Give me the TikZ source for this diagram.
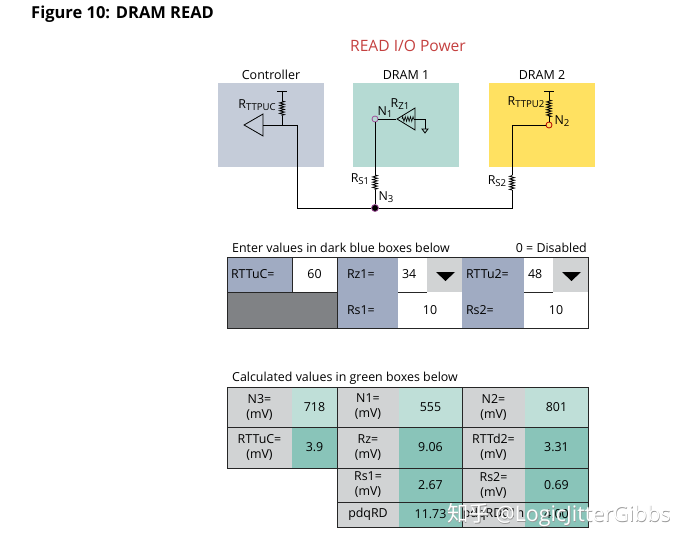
\documentclass[tikz,border=0pt]{standalone}
\usepackage{fontspec}
\setmainfont{Open Sans}
\newfontfamily\cjk{Noto Sans CJK SC}
\usetikzlibrary{shapes.geometric,decorations.pathmorphing}
\definecolor{ctrlgray}{HTML}{C5CCD9}
\definecolor{dramgreen}{HTML}{B5DAD3}
\definecolor{dramyellow}{HTML}{FFE161}
\definecolor{titlered}{HTML}{C4403F}
\definecolor{inputblue}{HTML}{A0ABC2}
\definecolor{offgray}{HTML}{808285}
\definecolor{labelgray}{HTML}{D1D3D4}
\definecolor{lightgreen}{HTML}{BFDFD8}
\definecolor{darkgreen}{HTML}{89C4B9}
\definecolor{ringpink}{HTML}{A0509A}
\newcommand{\rsub}[2]{#1\raisebox{-0.35ex}{\fontsize{9.6}{10}\selectfont #2}}
\tikzset{
    cell/.style 2 args={minimum width=#1, minimum height=#2, inner sep=0pt, outer sep=0pt, anchor=north west, align=center, font=\fontsize{12.4}{15}\selectfont},
    leftcell/.style={text width=#1, inner xsep=4pt, align=left},
    chip/.style={minimum width=106, minimum height=84, inner sep=0pt, anchor=north west},
    wire/.style={line width=0.8pt},
    res/.style={wire, decorate, decoration={zigzag, segment length=2.6pt, amplitude=2.4pt}},
    amp/.style={draw, line width=0.8pt, isosceles triangle, isosceles triangle stretches, inner sep=0pt, anchor=apex, shape border rotate=180},
    ring/.style={circle, draw=#1, line width=0.8pt, minimum size=6pt, inner sep=0pt},
    tag/.style={font=\fontsize{12.4}{14}\selectfont, inner sep=0pt},
    head/.style={font=\fontsize{12.5}{14}\selectfont, inner sep=0pt},
    grid/.style={line width=1pt, color=black!85}
}
\begin{document}
\begin{tikzpicture}[x=1pt, y=-1pt]
    \useasboundingbox (0,0) rectangle (687,545);

    % titles
    \node[font=\bfseries\fontsize{16.5}{18}\selectfont, inner sep=0pt, anchor=west] (figtitle) at (31,14) {Figure 10: DRAM READ};
    \node[font=\fontsize{15.6}{18}\selectfont, text=titlered, inner sep=0pt] (iotitle) at (408,46) {READ I/O Power};

    % chips
    \node[chip, fill=ctrlgray] (ctrlbox) at (218,83) {};
    \node[chip, fill=dramgreen] (dram1box) at (353,83) {};
    \node[chip, fill=dramyellow] (dram2box) at (489,83) {};
    \node[head] (ctrlname) at (271,75) {Controller};
    \node[head] (dram1name) at (406,75) {DRAM 1};
    \node[head] (dram2name) at (542,75) {DRAM 2};

    % controller
    \node[amp, minimum width=22, minimum height=19] (drvc) at (243,125) {};
    \coordinate (capc) at (282,91);
    \coordinate (resctop) at (282,101);
    \coordinate (rescbot) at (282,116);
    \coordinate (pinc) at (282,125);
    \coordinate (cornerc) at (297,125);
    \draw[wire] (277,91) -- (287,91);
    \draw[wire] (capc) -- (resctop);
    \draw[res] (resctop) -- (rescbot);
    \draw[wire] (rescbot) -- (pinc);
    \draw[wire] (drvc.lower side) -- (cornerc);

    % dram 1
    \node[ring=ringpink] (n1) at (375,119) {};
    \node[amp, minimum width=22, minimum height=18] (drv1) at (396,119) {};
    \coordinate (resztop) at (402,119);
    \coordinate (reszbot) at (414,119);
    \coordinate (gnd1) at (425,119);
    \node[amp, minimum width=6, minimum height=4, shape border rotate=-90] (gndtri) at (425,134) {};
    \draw[wire] (n1) -- (drv1.apex);
    \draw[res, line width=0.6pt] (resztop) -- (reszbot);
    \draw[wire] (reszbot) -- (gnd1) -- (gndtri.lower side);

    % dram 2
    \node[ring=red!70!black] (n2) at (549,125) {};
    \coordinate (capd) at (549,91);
    \coordinate (resdtop) at (549,100);
    \coordinate (resdbot) at (549,117);
    \coordinate (cornerd) at (512,125);
    \draw[wire] (544,91) -- (554,91);
    \draw[wire] (capd) -- (resdtop);
    \draw[res] (resdtop) -- (resdbot);
    \draw[wire] (resdbot) -- (n2);
    \draw[wire] (n2) -- (cornerd);

    % bus
    \node[circle, fill=black, draw=ringpink, line width=0.8pt, minimum size=7pt, inner sep=0pt] (n3) at (375,208) {};
    \coordinate (buscl) at (297,208);
    \coordinate (buscr) at (512,208);
    \coordinate (rs1top) at (375,175);
    \coordinate (rs1bot) at (375,190);
    \coordinate (rs2top) at (512,175);
    \coordinate (rs2bot) at (512,190);
    \draw[wire] (cornerc) -- (buscl) -- (n3) -- (buscr) -- (rs2bot);
    \draw[res] (rs2bot) -- (rs2top);
    \draw[wire] (rs2top) -- (cornerd);
    \draw[wire] (n1) -- (rs1top);
    \draw[res] (rs1top) -- (rs1bot);
    \draw[wire] (rs1bot) -- (n3);

    % circuit labels
    \node[tag] (rttpuc) at (257,105) {\rsub{R}{TTPUC}};
    \node[tag] (rz1) at (400,104) {\rsub{R}{Z1}};
    \node[tag] (n1lab) at (385,112) {\rsub{N}{1}};
    \node[tag] (rttpu2) at (526,102) {\rsub{R}{TTPU2}};
    \node[tag] (n2lab) at (562,121) {\rsub{N}{2}};
    \node[tag] (rs1lab) at (360,179) {\rsub{R}{S1}};
    \node[tag] (rs2lab) at (497,181) {\rsub{R}{S2}};
    \node[tag] (n3lab) at (386,197) {\rsub{N}{3}};

    % input table
    \node[tag, anchor=west] (entertxt) at (232,248) {Enter values in dark blue boxes below};
    \node[tag, anchor=east] (disabled) at (587,248) {0 = Disabled};

    \node[cell={65}{35}, fill=inputblue, leftcell=57] (rttuc) at (227,257) {RTTuC=};
    \node[cell={45}{35}, fill=white] (rttucv) at (292,257) {60};
    \node[cell={61}{35}, fill=inputblue, leftcell=41, inner xsep=10pt] (rz) at (337,257) {Rz1=};
    \node[cell={29}{35}, fill=white, leftcell=21] (rzv) at (398,257) {34};
    \node[cell={35}{35}, fill=labelgray] (rzmenu) at (427,257) {};
    \node[cell={62}{35}, fill=inputblue, leftcell=54] (rttu2) at (462,257) {RTTu2=};
    \node[cell={29}{35}, fill=white, leftcell=21] (rttu2v) at (524,257) {48};
    \node[cell={35}{35}, fill=labelgray] (rttu2menu) at (553,257) {};
    \node[cell={110}{36}, fill=offgray] (blank) at (227,292) {};
    \node[cell={61}{36}, fill=inputblue, leftcell=41, inner xsep=10pt] (rs1) at (337,292) {Rs1=};
    \node[cell={64}{36}, fill=white] (rs1v) at (398,292) {10};
    \node[cell={62}{36}, fill=inputblue, leftcell=54] (rs2) at (462,292) {Rs2=};
    \node[cell={64}{36}, fill=white] (rs2v) at (524,292) {10};

    \fill (436,272) -- (455,272) -- (445.5,281) -- cycle;
    \fill (562,272) -- (581,272) -- (571.5,281) -- cycle;

    \draw[grid] (rttuc.north west) rectangle (rs2v.south east);
    \draw[grid] (rz.north west) -- (rs1.south west);
    \draw[grid] (blank.north west) -- (blank.north east);
    \draw[grid, line width=0.6pt] (rttucv.north west) -- (rttucv.south west);
    \draw[grid, line width=0.6pt] (rzv.south west) -- (rzv.south east);
    \draw[grid, line width=0.6pt] (rttu2v.south west) -- (rttu2v.south east);

    % result table
    \node[tag, anchor=west] (calctxt) at (232,378) {Calculated values in green boxes below};

    \node[cell={65}{40}, fill=labelgray] (n3a) at (227,387) {N3=\\(mV)};
    \node[cell={45}{40}, fill=lightgreen] (n3v) at (292,387) {718};
    \node[cell={62}{40}, fill=labelgray] (n1a) at (337,387) {N1=\\(mV)};
    \node[cell={63}{40}, fill=lightgreen] (n1v) at (399,387) {555};
    \node[cell={63}{40}, fill=labelgray] (n2a) at (462,387) {N2=\\(mV)};
    \node[cell={63}{40}, fill=lightgreen] (n2v) at (525,387) {801};

    \node[cell={65}{41}, fill=labelgray] (rua) at (227,427) {RTTuC=\\(mV)};
    \node[cell={45}{41}, fill=darkgreen] (ruv) at (292,427) {3.9};
    \node[cell={62}{41}, fill=labelgray] (rza) at (337,427) {Rz=\\(mV)};
    \node[cell={63}{41}, fill=darkgreen] (rzc) at (399,427) {9.06};
    \node[cell={63}{41}, fill=labelgray] (rda) at (462,427) {RTTd2=\\(mV)};
    \node[cell={63}{41}, fill=darkgreen] (rdv) at (525,427) {3.31};

    \node[cell={62}{34}, fill=labelgray] (s1a) at (337,468) {Rs1=\\(mV)};
    \node[cell={63}{34}, fill=darkgreen] (s1v) at (399,468) {2.67};
    \node[cell={63}{34}, fill=labelgray] (s2a) at (462,468) {Rs2=\\(mV)};
    \node[cell={63}{34}, fill=darkgreen] (s2v) at (525,468) {0.69};

    \node[cell={62}{25}, fill=labelgray] (pa) at (337,502) {pdqRD};
    \node[cell={63}{25}, fill=darkgreen] (pv) at (399,502) {11.73};
    \node[cell={63}{25}, fill=labelgray] (qa) at (462,502) {pdqRD01h};
    \node[cell={63}{25}, fill=darkgreen] (qv) at (525,502) {4.00};

    \draw[grid] (n3a.north west) -- (n2v.north east) -- (qv.south east) -- (pa.south west) -- (n1a.north west);
    \draw[grid] (n3a.north west) -- (rua.south west) -- (rza.south west);
    \draw[grid] (n3a.south west) -- (n2v.south east);
    \draw[grid] (rua.south east) -- (rdv.south east);
    \draw[grid] (s1a.south west) -- (s2v.south east);
    \draw[grid] (n2a.north west) -- (qa.south west);

    % watermark
    \node[font=\fontsize{21.4}{24}\selectfont, inner sep=0pt, anchor=west, text=black!40] (markback) at (447.6,515.6) {{\cjk 知乎} @LogicJitterGibbs};
    \node[font=\fontsize{21.4}{24}\selectfont, inner sep=0pt, anchor=west, text=white] (markfront) at (447,515) {{\cjk 知乎} @LogicJitterGibbs};
\end{tikzpicture}
\end{document}
